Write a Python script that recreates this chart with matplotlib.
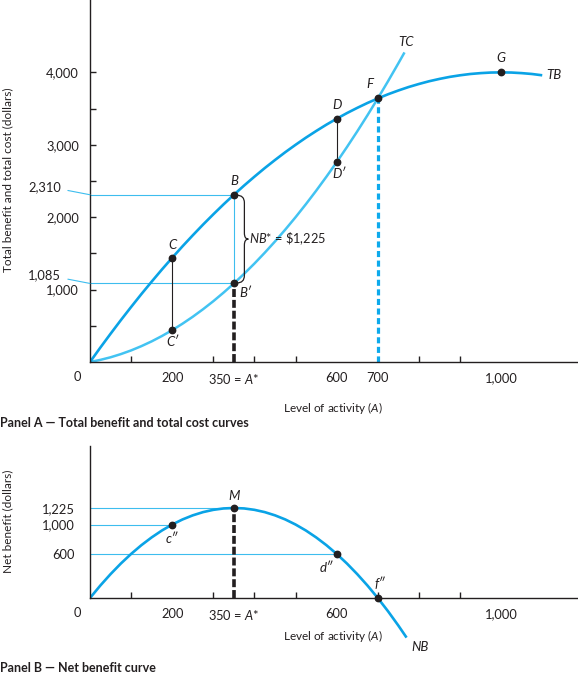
import matplotlib
matplotlib.use('Agg')
import matplotlib.pyplot as plt
from matplotlib.path import Path
from matplotlib.patches import PathPatch
from matplotlib.transforms import IdentityTransform

# ---------------- data ----------------
activity_tb = [0, 25, 50, 75, 100, 125, 150, 175, 200, 225, 250, 275, 300, 325,
               350, 375, 400, 425, 450, 475, 500, 525, 550, 575, 600, 625, 650,
               675, 700, 725, 750, 775, 800, 825, 850, 875, 900, 925, 950, 975,
               1000, 1025, 1050, 1075, 1100]
total_benefit = [0, 198, 390, 578, 760, 938, 1110, 1278, 1440, 1598, 1750, 1898,
                 2040, 2178, 2310, 2438, 2560, 2678, 2790, 2898, 3000, 3098, 3190,
                 3278, 3360, 3438, 3510, 3578, 3640, 3698, 3750, 3798, 3840, 3878,
                 3910, 3938, 3960, 3978, 3990, 3998, 4000, 3998, 3990, 3978, 3960]

activity_tc = [0, 25, 50, 75, 100, 125, 150, 175, 200, 225, 250, 275, 300, 325,
               350, 375, 400, 425, 450, 475, 500, 525, 550, 575, 600, 625, 650,
               675, 700, 725, 750, 765]
total_cost = [0, 29, 65, 109, 160, 219, 285, 359, 440, 529, 625, 729, 840, 959,
              1085, 1219, 1360, 1509, 1665, 1829, 2000, 2179, 2365, 2559, 2760,
              2969, 3185, 3409, 3640, 3879, 4125, 4276]

activity_nb = [0, 25, 50, 75, 100, 125, 150, 175, 200, 225, 250, 275, 300, 325,
               350, 375, 400, 425, 450, 475, 500, 525, 550, 575, 600, 625, 650,
               675, 700, 725, 750, 770]
net_benefit = [0, 169, 325, 469, 600, 719, 825, 919, 1000, 1069, 1125, 1169, 1200,
               1219, 1225, 1219, 1200, 1169, 1125, 1069, 1000, 919, 825, 719, 600,
               469, 325, 169, 0, -181, -375, -539]

# labelled points, panel A
a_pts_x = [200, 200, 350, 350, 600, 600, 700, 1000]
a_pts_y = [1440, 440, 2310, 1085, 3360, 2760, 3640, 4000]
a_pts_lab = ['C', 'C\u2032', 'B', 'B\u2032', 'D', 'D\u2032', 'F', 'G']
# labelled points, panel B
b_pts_x = [200, 350, 600, 700]
b_pts_y = [1000, 1225, 600, 0]
b_pts_lab = ['c\u2033', 'M', 'd\u2033', 'f\u2033']

a_yticks = [1000, 2000, 3000, 4000]
a_yticklabels = ['1,000', '2,000', '3,000', '4,000']
x_ticks = [200, 350, 600, 700, 1000]
x_ticklabels = ['200', r'350 = $\mathit{A}$*', '600', '700', '1,000']
b_xticks = [200, 350, 600, 1000]
b_xticklabels = ['200', r'350 = $\mathit{A}$*', '600', '1,000']
b_yticks = [600, 1000, 1225]
b_yticklabels = ['600', '1,000', '1,225']

# ---------------- style ----------------
plt.rcParams['font.family'] = ['Lato', 'DejaVu Sans']
plt.rcParams['mathtext.fontset'] = 'custom'
plt.rcParams['mathtext.rm'] = 'Lato'
plt.rcParams['mathtext.it'] = 'Lato:italic'
plt.rcParams['mathtext.bf'] = 'Lato:bold'

C_TB = '#0AA3E6'
C_TC = '#42C3F2'
C_GUIDE = '#3DBDEE'
C_BDASH = '#0DAAEC'
C_K = '#231F20'
FS = 8.5      # axis titles
TFS = 9.3     # tick labels
PFS = 9.5     # point labels

W, H = 578, 674
fig = plt.figure(figsize=(W / 100, H / 100), dpi=100)

def axes_px(left, top, right, bottom):
    return fig.add_axes([left / W, 1 - bottom / H, (right - left) / W, (bottom - top) / H])

# ---------------- Panel A ----------------
axA = axes_px(90, 0, 578, 362)
axA.set_xlim(0, 1187)
axA.set_ylim(0, 5000)
for s in ['top', 'right']:
    axA.spines[s].set_visible(False)
for s in ['left', 'bottom']:
    axA.spines[s].set_color(C_K)
    axA.spines[s].set_linewidth(1.0)

axA.set_xticks(x_ticks)
axA.set_xticklabels(x_ticklabels)
axA.set_xticks(list(range(100, 1001, 100)), minor=True)
axA.set_yticks(a_yticks)
axA.set_yticklabels(a_yticklabels)
axA.set_yticks([500, 1500, 2500, 3500], minor=True)
axA.tick_params(axis='x', which='major', length=0, pad=7.5, labelsize=TFS, colors=C_K)
axA.tick_params(axis='x', which='minor', direction='in', length=4.5, width=1, color=C_K)
axA.tick_params(axis='y', which='both', direction='in', length=4.5, width=1, color=C_K,
                labelsize=TFS, labelcolor=C_K, pad=8)

# guides
axA.plot([0, a_pts_x[2]], [a_pts_y[2], a_pts_y[2]], color=C_GUIDE, lw=0.8)
axA.plot([0, a_pts_x[3]], [a_pts_y[3], a_pts_y[3]], color=C_GUIDE, lw=0.8)
axA.plot([a_pts_x[2], a_pts_x[3]], [a_pts_y[2], a_pts_y[3]], color=C_GUIDE, lw=0.8)
axA.plot([a_pts_x[0], a_pts_x[1]], [a_pts_y[0], a_pts_y[1]], color=C_K, lw=0.8)
axA.plot([a_pts_x[4], a_pts_x[5]], [a_pts_y[4], a_pts_y[5]], color=C_K, lw=0.8)
axA.plot([a_pts_x[3], a_pts_x[3]], [0, a_pts_y[3]], color=C_K, lw=2.6,
         dashes=(2.2, 0.8), solid_capstyle='butt')
axA.plot([a_pts_x[6], a_pts_x[6]], [0, a_pts_y[6]], color=C_BDASH, lw=2.3,
         dashes=(1.9, 1.1))

# curves
axA.plot(activity_tc, total_cost, color=C_TC, lw=1.8, solid_capstyle='butt')
axA.plot(activity_tb, total_benefit, color=C_TB, lw=1.9, solid_capstyle='butt')

axA.plot(a_pts_x, a_pts_y, 'o', color=C_K, ms=4.6, zorder=5)

offsA = [(0, 13, 'center'), (0, -12, 'center'), (0, 14, 'center'), (5, -10, 'left'),
         (0, 14, 'center'), (2, -12, 'center'), (-8, 14, 'center'), (0, 14, 'center')]
for x, y, lab, (dx, dy, ha) in zip(a_pts_x, a_pts_y, a_pts_lab, offsA):
    axA.annotate(lab, (x, y), xytext=(dx, dy), textcoords='offset pixels',
                 ha=ha, va='center', fontsize=PFS, fontstyle='italic', color=C_K)

axA.annotate('TC', (activity_tc[-1], total_cost[-1]), xytext=(2, 10),
             textcoords='offset pixels', ha='center', va='center', fontsize=PFS,
             fontstyle='italic', color=C_K)
axA.annotate('TB', (activity_tb[-1], total_benefit[-1]), xytext=(4, 0),
             textcoords='offset pixels', ha='left', va='center', fontsize=PFS,
             fontstyle='italic', color=C_K)

# extra y labels with leader lines
for val, txt in [(a_pts_y[2], '2,310'), (a_pts_y[3], '1,085')]:
    axA.annotate(txt, xy=(0, val), xytext=(-29, 8), textcoords='offset pixels',
                 ha='right', va='center', fontsize=TFS, color=C_K,
                 arrowprops=dict(arrowstyle='-', color=C_GUIDE, lw=0.8,
                                 shrinkA=3, shrinkB=0, relpos=(1, 0.3)),
                 annotation_clip=False)

axA.annotate('0', (0, 0), xytext=(-13, -15), textcoords='offset pixels',
             ha='center', va='center', fontsize=TFS, color=C_K, annotation_clip=False)

axA.set_xlabel(r'Level of activity ($\mathit{A}$)', fontsize=FS, color=C_K)
axA.xaxis.set_label_coords((333 - 90) / 488, -(400 - 362) / 362)

# brace between B and B'
fig.canvas.draw()
xb, yt = axA.transData.transform((a_pts_x[2], a_pts_y[2]))
_, yb = axA.transData.transform((a_pts_x[3], a_pts_y[3]))
xs = xb + 10.5
ym = (yt + yb) / 2
verts = [(xb + 3, yt - 0.5), (xs, yt - 0.5), (xs, yt - 8),
         (xs, ym + 6), (xs, ym), (xs + 4, ym),
         (xs, ym), (xs, ym - 6),
         (xs, yb + 8), (xs, yb + 0.5), (xb + 3, yb + 0.5)]
codes = [Path.MOVETO, Path.CURVE3, Path.CURVE3,
         Path.LINETO, Path.CURVE3, Path.CURVE3,
         Path.CURVE3, Path.CURVE3,
         Path.LINETO, Path.CURVE3, Path.CURVE3]
fig.add_artist(PathPatch(Path(verts, codes), transform=IdentityTransform(),
                         fill=False, edgecolor=C_K, lw=0.9))
fig.text((xs + 5) / W, ym / H, r'$\mathit{NB}$* = \$1,225', ha='left', va='center',
         fontsize=9.2, color=C_K)

# ---------------- Panel B ----------------
axB = axes_px(90, 446, 578, 662)
y0_px = 598
scaleB = (598 - 508) / 1225.0
axB.set_xlim(0, 1187)
axB.set_ylim(-(662 - y0_px) / scaleB, (y0_px - 446) / scaleB)
for s in ['top', 'right']:
    axB.spines[s].set_visible(False)
axB.spines['bottom'].set_position(('data', 0))
axB.spines['left'].set_bounds(0, (y0_px - 446) / scaleB)
for s in ['left', 'bottom']:
    axB.spines[s].set_color(C_K)
    axB.spines[s].set_linewidth(1.0)

axB.set_xticks(b_xticks)
axB.set_xticklabels(b_xticklabels)
axB.set_xticks(list(range(100, 1001, 100)), minor=True)
axB.set_yticks(b_yticks)
axB.set_yticklabels(b_yticklabels)
axB.tick_params(axis='x', which='major', length=0, pad=7.5, labelsize=TFS, colors=C_K)
axB.tick_params(axis='x', which='minor', direction='in', length=4.5, width=1, color=C_K)
axB.tick_params(axis='y', which='both', length=0, labelsize=TFS, labelcolor=C_K, pad=11)

for x, y in zip(b_pts_x[:3], b_pts_y[:3]):
    axB.plot([0, x], [y, y], color=C_GUIDE, lw=0.8)
axB.plot([b_pts_x[1], b_pts_x[1]], [0, b_pts_y[1]], color=C_K, lw=2.6,
         dashes=(2.2, 0.8), solid_capstyle='butt')
axB.plot(activity_nb, net_benefit, color=C_TB, lw=1.9, solid_capstyle='butt')
axB.plot(b_pts_x, b_pts_y, 'o', color=C_K, ms=4.6, zorder=5, clip_on=False)

offsB = [(0, -14, 'center'), (0, 12, 'center'), (-10, -14, 'center'), (2, 14, 'center')]
for x, y, lab, (dx, dy, ha) in zip(b_pts_x, b_pts_y, b_pts_lab, offsB):
    axB.annotate(lab, (x, y), xytext=(dx, dy), textcoords='offset pixels',
                 ha=ha, va='center', fontsize=PFS, fontstyle='italic', color=C_K)
axB.annotate('NB', (activity_nb[-1], net_benefit[-1]), xytext=(5, -9),
             textcoords='offset pixels', ha='left', va='center', fontsize=PFS,
             fontstyle='italic', color=C_K)
axB.annotate('0', (0, 0), xytext=(-13, -15), textcoords='offset pixels',
             ha='center', va='center', fontsize=TFS, color=C_K, annotation_clip=False)

fig.text(333 / W, 1 - 636 / H, r'Level of activity ($\mathit{A}$)', ha='center',
         va='center', fontsize=FS, color=C_K)

# ---------------- figure texts ----------------
fig.text(8 / W, 1 - 180 / H, 'Total benefit and total cost (dollars)', rotation=90,
         ha='center', va='center', fontsize=FS, color=C_K)
fig.text(8 / W, 1 - 521 / H, 'Net benefit (dollars)', rotation=90,
         ha='center', va='center', fontsize=FS, color=C_K)
fig.text(0.5 / W, 1 - 423 / H, 'Panel A \u2014 Total benefit and total cost curves',
         ha='left', va='center', fontsize=9, fontweight='bold', color=C_K)
fig.text(0.5 / W, 1 - 668 / H, 'Panel B \u2014 Net benefit curve',
         ha='left', va='center', fontsize=9, fontweight='bold', color=C_K)

fig.savefig('out.png', dpi=100)
